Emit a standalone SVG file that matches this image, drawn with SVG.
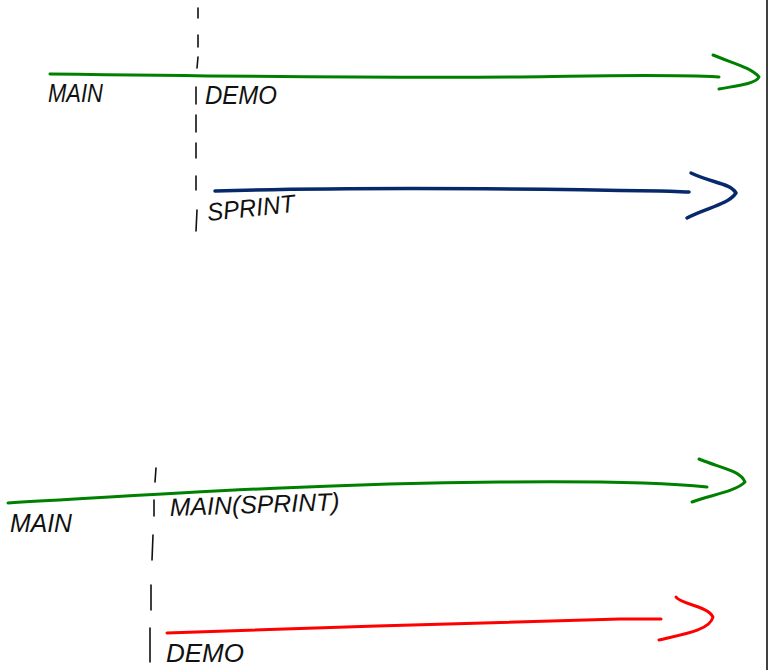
<svg xmlns="http://www.w3.org/2000/svg" width="768" height="670" viewBox="0 0 768 670">
  <style>
    .lbl { font-family: "Liberation Sans", "DejaVu Sans", sans-serif; font-size: 25px; fill: #111; font-style: italic; font-weight: normal; }
    .green { stroke: #008000; stroke-width: 3; fill: none; stroke-linecap: round; stroke-linejoin: round; }
    .blue { stroke: #06296b; stroke-width: 3.5; fill: none; stroke-linecap: round; stroke-linejoin: round; }
    .red { stroke: #ff0000; stroke-width: 3; fill: none; stroke-linecap: round; stroke-linejoin: round; }
    .dash { stroke: #111; stroke-width: 1.6; fill: none; stroke-linecap: round; }
  </style>
  <rect x="0" y="0" width="768" height="670" fill="#ffffff"/>
  <line x1="767" y1="0" x2="767" y2="670" stroke="#000" stroke-width="1.5"/>

  <g id="connectors">
    <!-- top diagram -->
    <path class="green" d="M50 74 C 200 76, 400 78, 520 77 C 600 76, 660 74, 719 77"/>
    <path class="green" d="M713 55 C 735 64, 752 68, 759 77 C 756 84, 735 86, 719 89"/>
    <path class="blue" d="M215 191 C 350 187, 550 189, 660 191 C 675 191, 683 192, 689 192"/>
    <path class="blue" d="M691 173 C 712 183, 730 183, 736 193 C 728 205, 705 208, 687 218"/>
    <path class="dash" d="M198 8 L198 18 M198 35 L198 47 M198 57 L197 68 M196 87 L196 104 M196 115 L196 132 M196 143 L196 158 M196 176 L196 190 M197 210 L196 231"/>
    <!-- bottom diagram -->
    <path class="green" d="M8 503 C 150 495, 300 484, 500 482 C 600 481, 660 482, 707 487"/>
    <path class="green" d="M699 459 C 720 468, 740 470, 745 482 C 735 492, 710 495, 692 502"/>
    <path class="red" d="M167 633 C 300 628, 500 622, 620 619 C 640 619, 650 619, 661 619"/>
    <path class="red" d="M676 597 C 680 604, 708 606, 713 617 C 710 630, 685 634, 659 640"/>
    <path class="dash" d="M156 468 L155 482 M154 500 L154 516 M153 535 L152 560 M151 585 L151 610 M150 628 L150 662"/>
  </g>

  <g id="top-main">
    <text class="lbl" x="48" y="102" textLength="55" lengthAdjust="spacingAndGlyphs">MAIN</text>
  </g>
  <g id="top-demo">
    <text class="lbl" x="205" y="104" textLength="72" lengthAdjust="spacingAndGlyphs">DEMO</text>
  </g>
  <g id="top-sprint">
    <text class="lbl" x="208" y="221" textLength="88" lengthAdjust="spacingAndGlyphs" transform="rotate(-6 208 221)">SPRINT</text>
  </g>
  <g id="bottom-main">
    <text class="lbl" x="10" y="532" textLength="62" lengthAdjust="spacingAndGlyphs">MAIN</text>
  </g>
  <g id="bottom-main-sprint">
    <text class="lbl" x="170" y="516" textLength="170" lengthAdjust="spacingAndGlyphs" transform="rotate(-2 170 516)">MAIN(SPRINT)</text>
  </g>
  <g id="bottom-demo">
    <text class="lbl" x="166" y="662" textLength="78" lengthAdjust="spacingAndGlyphs">DEMO</text>
  </g>
</svg>
